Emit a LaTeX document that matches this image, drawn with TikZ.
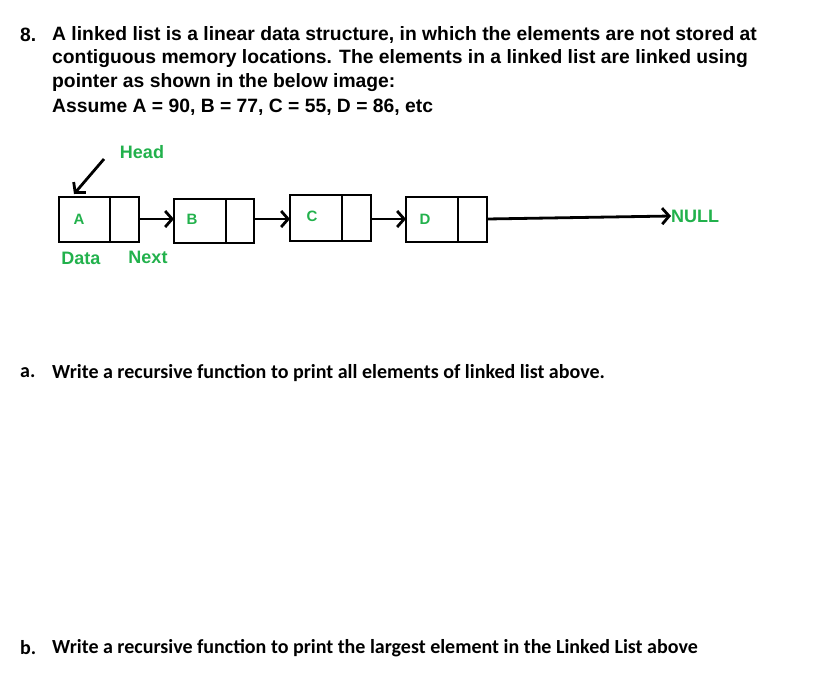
\documentclass[tikz,border=0pt]{standalone}
\usepackage{fontspec}
\setmainfont{Liberation Sans}
\newfontfamily\calib{Carlito}
\usetikzlibrary{arrows.meta}
\definecolor{gr}{HTML}{22B14C}
\begin{document}
\begin{tikzpicture}[x=1pt,y=-1pt,
  q/.style={anchor=west,inner sep=0,font=\fontsize{19.3}{22}\selectfont\bfseries},
  qc/.style={anchor=west,inner sep=0,font=\fontsize{20}{24}\selectfont\calib\bfseries},
  lab/.style={inner sep=0,text=gr,font=\fontsize{18}{21}\selectfont\bfseries},
  small/.style={inner sep=0,text=gr,font=\fontsize{15}{18}\selectfont\bfseries},
  cell/.style={draw,line width=2.8pt},
  arr/.style={line width=2.8pt,-{Straight Barb[length=7pt,width=16pt]}}]
\useasboundingbox (0,0) rectangle (836,673);
\node[q] (n8) at (20,35) {8.};
\node[q] (l1) at (52,35) {A linked list is a linear data structure, in which the elements are not stored at};
\node[q] (l2) at (52,59) {contiguous memory locations. The elements in a linked list are linked using};
\node[q] (l3) at (52,83) {pointer as shown in the below image:};
\node[q] (l4) at (52,107) {Assume A = 90, B = 77, C = 55, D = 86, etc};
% boxes
\draw[cell] (59,197) rectangle (139,242); \draw[cell] (110,197) -- (110,242);
\draw[cell] (174,199) rectangle (254,243); \draw[cell] (226,199) -- (226,243);
\draw[cell] (290,195) rectangle (371,241); \draw[cell] (342,195) -- (342,241);
\draw[cell] (406,197) rectangle (487,242); \draw[cell] (458,197) -- (458,242);
\coordinate (Aout) at (139,219);
\coordinate (Bin) at (174,219);
\coordinate (Bout) at (254,219);
\coordinate (Cin) at (290,219);
\coordinate (Cout) at (371,219);
\coordinate (Din) at (406,219);
\coordinate (Dout) at (487,219);
\node[small] (At) at (79,219) {A};
\node[small] (Bt) at (192,219) {B};
\node[small] (Ct) at (312,216) {C};
\node[small] (Dt) at (425,219) {D};
\node[lab,anchor=west] (null) at (671,216) {NULL};
\draw[arr] (Aout) -- (Bin);
\draw[arr] (Bout) -- (Cin);
\draw[arr] (Cout) -- (Din);
\draw[arr] (Dout) -- (null.west);
\node[lab] (head) at (142,152) {Head};
\coordinate (hs) at (104,159);
\coordinate (he) at (74,194);
\draw[arr] (hs) -- (he);
\node[lab] (data) at (81,258) {Data};
\node[lab] (next) at (148,257) {Next};
\node[qc] (na) at (20,373) {a.};
\node[qc] (ta) at (52,373) {Write a recursive function to print all elements of linked list above.};
\node[qc] (nb) at (20,648) {b.};
\node[qc] (tb) at (52,648) {Write a recursive function to print the largest element in the Linked List above};
\end{tikzpicture}
\end{document}
